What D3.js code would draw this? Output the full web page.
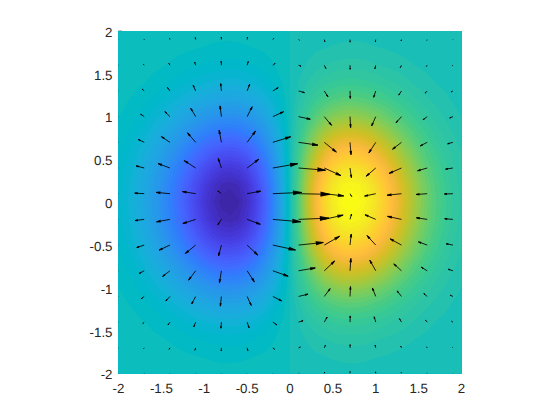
<!DOCTYPE html>
<html><head><meta charset="utf-8">
<script src="https://cdn.jsdelivr.net/npm/d3@7"></script>
<style>html,body{margin:0;padding:0;background:#fff}svg{display:block}</style>
</head><body><div id="chart"></div>
<script>
const xTicks=[-2,-1.5,-1,-0.5,0,0.5,1,1.5,2];
const xTickLabels=["-2","-1.5","-1","-0.5","0","0.5","1","1.5","2"];
const yTicks=[-2,-1.5,-1,-0.5,0,0.5,1,1.5,2];
const yTickLabels=["-2","-1.5","-1","-0.5","0","0.5","1","1.5","2"];
const parula=[[.2422,.1504,.6603],[.2504,.165,.7076],[.2578,.1818,.7511],[.2647,.1978,.7952],[.2706,.2147,.8364],[.2751,.2342,.871],[.2783,.2559,.8991],[.2803,.2782,.9221],[.2813,.3006,.9414],[.281,.3228,.9579],[.2795,.3447,.9717],[.276,.3667,.9829],[.2699,.3892,.9906],[.2602,.4123,.9952],[.244,.4358,.9988],[.2206,.4603,.9973],[.1963,.4847,.9892],[.1834,.5074,.9798],[.1786,.5289,.9682],[.1764,.5499,.952],[.1687,.5703,.9359],[.154,.5902,.9218],[.146,.6091,.9079],[.138,.6276,.8973],[.1248,.6459,.8883],[.1113,.6635,.8763],[.0952,.6798,.8598],[.0689,.6948,.8394],[.0297,.7082,.8163],[.0036,.7203,.7917],[.0067,.7312,.766],[.0433,.7411,.7394],[.0964,.75,.712],[.1408,.7584,.6842],[.1717,.767,.6554],[.1938,.7758,.6251],[.2161,.7843,.5923],[.247,.7918,.5567],[.2906,.7973,.5188],[.3406,.8008,.4789],[.3909,.8029,.4354],[.4456,.8024,.3909],[.5044,.7993,.348],[.5616,.7942,.3045],[.6174,.7876,.2612],[.672,.7793,.2227],[.7242,.7698,.191],[.7738,.7598,.1646],[.8203,.7498,.1535],[.8634,.7406,.1596],[.9035,.733,.1774],[.9393,.7288,.21],[.9728,.7298,.2394],[.9956,.7434,.2371],[.997,.7659,.2199],[.9952,.7893,.2028],[.9892,.8136,.1885],[.9786,.8386,.1766],[.9676,.8639,.1643],[.961,.889,.1537],[.9597,.9135,.1423],[.9628,.9373,.1265],[.9691,.9606,.1064],[.9769,.9839,.0805]];
const zMax=0.429;
// surface heights: rows y=-2,-1.8,...,2; columns x=-2,-1.9,...,2
const zGrid=[
[-.001,-.001,-.001,-.002,-.002,-.003,-.004,-.004,-.005,-.006,-.007,-.007,-.008,-.008,-.008,-.007,-.006,-.005,-.004,-.002,0,.002,.004,.005,.006,.007,.008,.008,.008,.007,.007,.006,.005,.004,.004,.003,.002,.002,.001,.001,.001],
[-.001,-.002,-.003,-.004,-.005,-.006,-.008,-.009,-.011,-.013,-.014,-.016,-.017,-.017,-.016,-.015,-.013,-.011,-.008,-.004,0,.004,.008,.011,.013,.015,.016,.017,.017,.016,.014,.013,.011,.009,.008,.006,.005,.004,.003,.002,.001],
[-.003,-.004,-.005,-.007,-.010,-.012,-.015,-.019,-.022,-.025,-.028,-.031,-.033,-.033,-.032,-.030,-.026,-.021,-.015,-.008,0,.008,.015,.021,.026,.030,.032,.033,.033,.031,.028,.025,.022,.019,.015,.012,.010,.007,.005,.004,.003],
[-.005,-.007,-.010,-.013,-.017,-.022,-.028,-.034,-.040,-.046,-.052,-.056,-.059,-.060,-.059,-.055,-.048,-.039,-.027,-.014,0,.014,.027,.039,.048,.055,.059,.060,.059,.056,.052,.046,.040,.034,.028,.022,.017,.013,.010,.007,.005],
[-.009,-.012,-.017,-.022,-.029,-.037,-.047,-.057,-.067,-.078,-.087,-.095,-.100,-.102,-.099,-.092,-.081,-.065,-.046,-.023,0,.023,.046,.065,.081,.092,.099,.102,.100,.095,.087,.078,.067,.057,.047,.037,.029,.022,.017,.012,.009],
[-.013,-.019,-.026,-.035,-.046,-.058,-.073,-.088,-.105,-.121,-.135,-.147,-.155,-.158,-.154,-.143,-.125,-.101,-.071,-.036,0,.036,.071,.101,.125,.143,.154,.158,.155,.147,.135,.121,.105,.088,.073,.058,.046,.035,.026,.019,.013],
[-.019,-.027,-.037,-.050,-.065,-.083,-.104,-.126,-.150,-.173,-.194,-.211,-.222,-.226,-.221,-.205,-.180,-.145,-.101,-.052,0,.052,.101,.145,.180,.205,.221,.226,.222,.211,.194,.173,.150,.126,.104,.083,.065,.050,.037,.027,.019],
[-.026,-.036,-.049,-.066,-.086,-.110,-.138,-.167,-.198,-.229,-.257,-.279,-.294,-.299,-.292,-.272,-.238,-.191,-.134,-.069,0,.069,.134,.191,.238,.272,.292,.299,.294,.279,.257,.229,.198,.167,.138,.110,.086,.066,.049,.036,.026],
[-.031,-.044,-.060,-.081,-.105,-.135,-.168,-.204,-.242,-.279,-.313,-.341,-.359,-.365,-.357,-.332,-.290,-.234,-.164,-.084,0,.084,.164,.234,.290,.332,.357,.365,.359,.341,.313,.279,.242,.204,.168,.135,.105,.081,.060,.044,.031],
[-.035,-.049,-.068,-.091,-.119,-.152,-.189,-.230,-.273,-.315,-.353,-.385,-.405,-.412,-.402,-.374,-.327,-.263,-.185,-.095,0,.095,.185,.263,.327,.374,.402,.412,.405,.385,.353,.315,.273,.230,.189,.152,.119,.091,.068,.049,.035],
[-.037,-.052,-.071,-.095,-.124,-.158,-.197,-.240,-.284,-.328,-.368,-.400,-.422,-.429,-.419,-.389,-.341,-.274,-.192,-.099,0,.099,.192,.274,.341,.389,.419,.429,.422,.400,.368,.328,.284,.240,.197,.158,.124,.095,.071,.052,.037],
[-.035,-.049,-.068,-.091,-.119,-.152,-.189,-.230,-.273,-.315,-.353,-.385,-.405,-.412,-.402,-.374,-.327,-.263,-.185,-.095,0,.095,.185,.263,.327,.374,.402,.412,.405,.385,.353,.315,.273,.230,.189,.152,.119,.091,.068,.049,.035],
[-.031,-.044,-.060,-.081,-.105,-.135,-.168,-.204,-.242,-.279,-.313,-.341,-.359,-.365,-.357,-.332,-.290,-.234,-.164,-.084,0,.084,.164,.234,.290,.332,.357,.365,.359,.341,.313,.279,.242,.204,.168,.135,.105,.081,.060,.044,.031],
[-.026,-.036,-.049,-.066,-.086,-.110,-.138,-.167,-.198,-.229,-.257,-.279,-.294,-.299,-.292,-.272,-.238,-.191,-.134,-.069,0,.069,.134,.191,.238,.272,.292,.299,.294,.279,.257,.229,.198,.167,.138,.110,.086,.066,.049,.036,.026],
[-.019,-.027,-.037,-.050,-.065,-.083,-.104,-.126,-.150,-.173,-.194,-.211,-.222,-.226,-.221,-.205,-.180,-.145,-.101,-.052,0,.052,.101,.145,.180,.205,.221,.226,.222,.211,.194,.173,.150,.126,.104,.083,.065,.050,.037,.027,.019],
[-.013,-.019,-.026,-.035,-.046,-.058,-.073,-.088,-.105,-.121,-.135,-.147,-.155,-.158,-.154,-.143,-.125,-.101,-.071,-.036,0,.036,.071,.101,.125,.143,.154,.158,.155,.147,.135,.121,.105,.088,.073,.058,.046,.035,.026,.019,.013],
[-.009,-.012,-.017,-.022,-.029,-.037,-.047,-.057,-.067,-.078,-.087,-.095,-.100,-.102,-.099,-.092,-.081,-.065,-.046,-.023,0,.023,.046,.065,.081,.092,.099,.102,.100,.095,.087,.078,.067,.057,.047,.037,.029,.022,.017,.012,.009],
[-.005,-.007,-.010,-.013,-.017,-.022,-.028,-.034,-.040,-.046,-.052,-.056,-.059,-.060,-.059,-.055,-.048,-.039,-.027,-.014,0,.014,.027,.039,.048,.055,.059,.060,.059,.056,.052,.046,.040,.034,.028,.022,.017,.013,.010,.007,.005],
[-.003,-.004,-.005,-.007,-.010,-.012,-.015,-.019,-.022,-.025,-.028,-.031,-.033,-.033,-.032,-.030,-.026,-.021,-.015,-.008,0,.008,.015,.021,.026,.030,.032,.033,.033,.031,.028,.025,.022,.019,.015,.012,.010,.007,.005,.004,.003],
[-.001,-.002,-.003,-.004,-.005,-.006,-.008,-.009,-.011,-.013,-.014,-.016,-.017,-.017,-.016,-.015,-.013,-.011,-.008,-.004,0,.004,.008,.011,.013,.015,.016,.017,.017,.016,.014,.013,.011,.009,.008,.006,.005,.004,.003,.002,.001],
[-.001,-.001,-.001,-.002,-.002,-.003,-.004,-.004,-.005,-.006,-.007,-.007,-.008,-.008,-.008,-.007,-.006,-.005,-.004,-.002,0,.002,.004,.005,.006,.007,.008,.008,.008,.007,.007,.006,.005,.004,.004,.003,.002,.002,.001,.001,.001]
];
const quiverX=[-2,-1.7,-1.4,-1.1,-.8,-.5,-.2,.1,.4,.7,1,1.3,1.6,1.9];
const quiverY=[-2,-1.7,-1.4,-1.1,-.8,-.5,-.2,.1,.4,.7,1,1.3,1.6,1.9];
const quiverU=[
[-.004,-.005,-.007,-.007,-.002,.007,.015,.016,.010,.001,-.006,-.007,-.006,-.004],
[-.011,-.015,-.022,-.021,-.006,.021,.045,.049,.031,.003,-.018,-.023,-.017,-.013],
[-.027,-.038,-.055,-.053,-.014,.054,.115,.125,.077,.006,-.044,-.057,-.044,-.034],
[-.058,-.080,-.116,-.112,-.030,.114,.243,.265,.164,.013,-.094,-.121,-.094,-.072],
[-.102,-.141,-.205,-.197,-.054,.202,.429,.468,.290,.024,-.166,-.215,-.166,-.127],
[-.150,-.209,-.303,-.291,-.080,.298,.634,.692,.428,.035,-.245,-.317,-.245,-.187],
[-.185,-.257,-.374,-.359,-.098,.368,.782,.853,.528,.043,-.302,-.391,-.302,-.231],
[-.191,-.265,-.385,-.370,-.101,.379,.806,.879,.544,.045,-.312,-.403,-.311,-.238],
[-.164,-.228,-.332,-.319,-.087,.326,.694,.757,.468,.038,-.268,-.347,-.268,-.205],
[-.118,-.164,-.238,-.229,-.063,.235,.499,.544,.337,.028,-.193,-.249,-.192,-.147],
[-.071,-.099,-.143,-.138,-.038,.141,.299,.327,.202,.017,-.116,-.150,-.116,-.089],
[-.036,-.049,-.072,-.069,-.019,.071,.150,.164,.101,.008,-.058,-.075,-.058,-.044],
[-.015,-.021,-.030,-.029,-.008,.030,.063,.069,.043,.003,-.024,-.031,-.024,-.019],
[-.005,-.007,-.011,-.010,-.003,.010,.022,.024,.015,.001,-.009,-.011,-.009,-.007]
];
const quiverV=[
[-.005,-.012,-.025,-.041,-.052,-.048,-.024,.012,.042,.053,.046,.030,.015,.006],
[-.007,-.019,-.040,-.067,-.086,-.080,-.039,.020,.070,.088,.075,.049,.025,.011],
[-.015,-.038,-.080,-.133,-.171,-.157,-.078,.040,.138,.173,.149,.097,.050,.021],
[-.024,-.061,-.127,-.211,-.272,-.251,-.124,.064,.219,.276,.237,.154,.080,.033],
[-.029,-.076,-.158,-.263,-.338,-.312,-.154,.079,.273,.343,.295,.192,.099,.041],
[-.026,-.068,-.142,-.237,-.305,-.281,-.139,.072,.246,.310,.266,.173,.089,.037],
[-.013,-.033,-.069,-.115,-.148,-.137,-.068,.035,.120,.151,.130,.084,.044,.018],
[.007,.017,.036,.059,.076,.071,.035,-.018,-.062,-.078,-.067,-.043,-.022,-.009],
[.023,.059,.124,.206,.265,.245,.121,-.062,-.214,-.270,-.231,-.151,-.078,-.032],
[.030,.076,.159,.265,.340,.314,.155,-.080,-.275,-.346,-.297,-.194,-.100,-.042],
[.026,.067,.141,.234,.301,.278,.137,-.071,-.243,-.306,-.262,-.171,-.088,-.037],
[.018,.046,.096,.159,.204,.189,.093,-.048,-.165,-.208,-.178,-.116,-.060,-.025],
[.010,.025,.052,.086,.111,.102,.050,-.026,-.089,-.112,-.097,-.063,-.032,-.014],
[.006,.016,.033,.055,.071,.065,.032,-.017,-.057,-.072,-.062,-.040,-.021,-.009]
];

const W=560,H=420;
const x=d3.scaleLinear().domain([-2,2]).range([118.5,461.5]);
const y=d3.scaleLinear().domain([-2,2]).range([373.5,31]);
const svg=d3.select("#chart").append("svg").attr("width",W).attr("height",H).attr("viewBox",[0,0,W,H]);
svg.append("defs").append("clipPath").attr("id","plot").append("rect")
  .attr("x",x(-2)).attr("y",y(2)).attr("width",x(2)-x(-2)).attr("height",y(-2)-y(2));

const axisColor="#262626";
function style(g){
  g.selectAll("path,line").attr("stroke",axisColor).attr("stroke-width",0.6);
  g.selectAll("text").attr("fill",axisColor).attr("font-family","'Liberation Sans',Arial,sans-serif").attr("font-size",13.3).style("text-rendering","geometricPrecision");
}
svg.append("g").attr("transform",`translate(0,${y(-2)})`)
  .call(d3.axisBottom(x).offset(0).tickValues(xTicks).tickFormat((d,i)=>xTickLabels[i]).tickSizeInner(-3.4).tickSizeOuter(0).tickPadding(10))
  .call(style);
svg.append("g").attr("transform",`translate(${x(-2)},0)`)
  .call(d3.axisLeft(y).offset(0).tickValues(yTicks).tickFormat((d,i)=>yTickLabels[i]).tickSizeInner(-3.4).tickSizeOuter(0).tickPadding(6))
  .call(style)
  .call(g=>g.selectAll("text").attr("dy","0.44em"));

const nCols=zGrid[0].length,nRows=zGrid.length;
const bandColor=parula.map(c=>d3.rgb(c[0]*255,c[1]*255,c[2]*255).formatHex());
const thresholds=d3.range(1,bandColor.length).map(k=>-zMax+k*2*zMax/bandColor.length);
const gx=d3.scaleLinear().domain([.5,nCols-.5]).range([-2,2]);
const gy=d3.scaleLinear().domain([.5,nRows-.5]).range([-2,2]);
const project=d3.geoTransform({point(px,py){this.stream.point(x(gx(px)),y(gy(py)));}});
const pathGen=d3.geoPath(project);
const contours=d3.contours().size([nCols,nRows]).smooth(true);
const flat=zGrid.flat();
const surf=svg.append("g").attr("clip-path","url(#plot)");
surf.append("rect").attr("x",x(-2)).attr("y",y(2)).attr("width",x(2)-x(-2)).attr("height",y(-2)-y(2)).attr("fill",bandColor[0]);
surf.selectAll("path").data(thresholds).join("path")
  .attr("d",t=>pathGen(contours.contour(flat,t)))
  .attr("fill",(t,i)=>bandColor[i+1]);

const arrowScale=0.416,alpha=0.3,beta=0.22;
const arrows=[];
quiverY.forEach((yv,r)=>quiverX.forEach((xv,c)=>arrows.push({x:xv,y:yv,u:quiverU[r][c]*arrowScale,v:quiverV[r][c]*arrowScale})));
const line=d3.line().x(d=>x(d[0])).y(d=>y(d[1]));
const q=svg.append("g").attr("clip-path","url(#plot)").attr("fill","#000").attr("stroke","#000").attr("stroke-width",0.85);
q.selectAll("path").data(arrows).join("path").attr("d",a=>{
  const tx=a.x+a.u,ty=a.y+a.v;
  return line([[a.x,a.y],[tx,ty]])+
   line([[tx-alpha*(a.u+beta*a.v),ty-alpha*(a.v-beta*a.u)],[tx,ty],[tx-alpha*(a.u-beta*a.v),ty-alpha*(a.v+beta*a.u)]]);
});
</script></body></html>
